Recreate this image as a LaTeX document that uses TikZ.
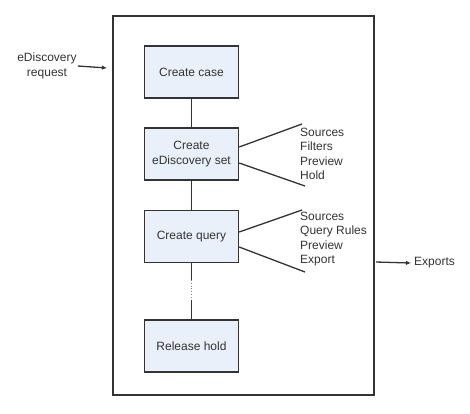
\documentclass[tikz,border=0pt]{standalone}
\usepackage{fontspec}
\setmainfont{Liberation Sans}
\usetikzlibrary{arrows.meta}
\definecolor{boxfill}{HTML}{E9F0FA}
\definecolor{linec}{HTML}{333333}
\tikzset{
  stepbox/.style={draw=linec, line width=1.4pt, fill=boxfill, minimum width=94pt, minimum height=52pt, inner sep=2pt, align=center, font=\fontsize{12}{15}\selectfont, text=linec},
  lbl/.style={font=\fontsize{12}{14.5}\selectfont, text=linec, inner sep=0pt},
  conn/.style={draw=linec, line width=1.3pt},
  arr/.style={draw=linec, line width=1.3pt, -{Latex[length=5pt,width=4.5pt]}}
}
\begin{document}
\begin{tikzpicture}[x=1pt,y=-1pt]
\useasboundingbox (0,0) rectangle (470,413);
\node[draw=linec, line width=1.3pt, minimum width=261pt, minimum height=379pt, inner sep=0pt] (frame) at (243.5,205.5) {};
\node[stepbox] (b1) at (191.5,72) {Create case};
\node[stepbox] (b2) at (191.5,154) {Create\\eDiscovery set};
\node[stepbox] (b3) at (191.5,236.5) {Create query};
\node[stepbox] (b4) at (191.5,346) {Release hold};
\draw[conn] (b1) -- (b2);
\draw[conn] (b2) -- (b3);
\coordinate (d1) at (191.5,280);
\coordinate (d2) at (191.5,300);
\draw[conn] (b3) -- (d1);
\draw[draw=gray, line width=0.8pt, dotted] (d1) -- (d2);
\draw[conn] (d2) -- (b4);
% lists
\node[lbl, align=left, anchor=west] (l1) at (300,154) {Sources\\Filters\\Preview\\Hold};
\node[lbl, align=left, anchor=west] (l2) at (300,239) {Sources\\Query Rules\\Preview\\Export};
\coordinate (a1) at (302,124);
\coordinate (a2) at (305,186);
\coordinate (a3) at (302,210);
\coordinate (a4) at (305,272);
\draw[conn] ([yshift=7pt]b2.east) -- (a1);
\draw[conn] ([yshift=-9pt]b2.east) -- (a2);
\draw[conn] ([yshift=4.5pt]b3.east) -- (a3);
\draw[conn] ([yshift=-10.5pt]b3.east) -- (a4);
% request
\node[lbl, align=center] (req) at (47,66) {eDiscovery\\request};
\coordinate (rq) at (107,68);
\draw[arr] (req.east) ++(1pt,0) -- (rq);
% exports
\node[lbl, anchor=west] (exp) at (414,263) {Exports};
\coordinate (ex1) at (376,262);
\draw[arr] (ex1) -- ([xshift=-3pt]exp.west);
\end{tikzpicture}
\end{document}
